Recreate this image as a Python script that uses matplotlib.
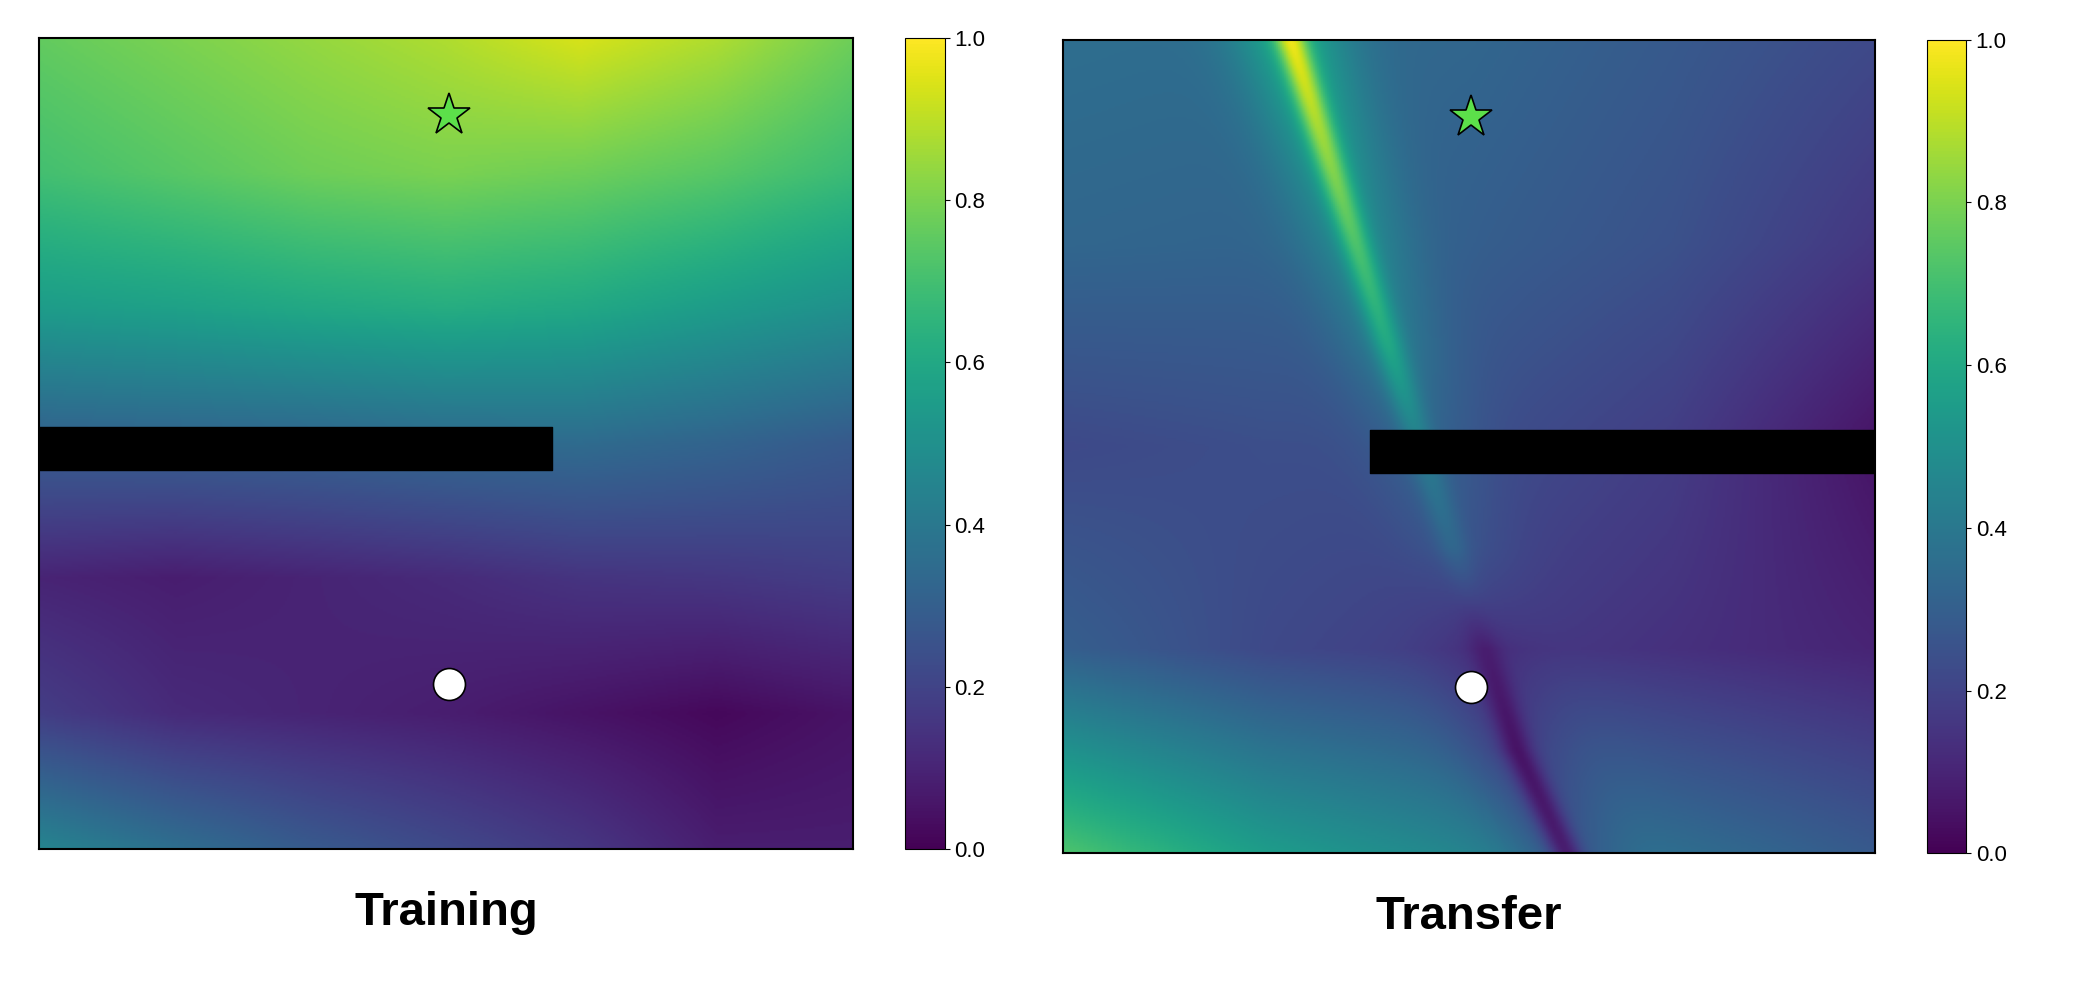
import numpy as np
import matplotlib.pyplot as plt
plt.rcParams['font.family'] = ['Liberation Sans', 'DejaVu Sans']

# Training field: coarse grid (rows top->bottom, cols left->right)
train_grid = [
    [0.76, 0.80, 0.84, 0.88, 0.94, 0.88, 0.78],
    [0.70, 0.74, 0.78, 0.80, 0.78, 0.74, 0.68],
    [0.55, 0.57, 0.60, 0.62, 0.60, 0.55, 0.50],
    [0.30, 0.31, 0.32, 0.34, 0.35, 0.32, 0.28],
    [0.10, 0.08, 0.10, 0.12, 0.15, 0.16, 0.18],
    [0.18, 0.12, 0.10, 0.08, 0.05, 0.02, 0.05],
    [0.45, 0.36, 0.28, 0.22, 0.16, 0.08, 0.08],
]
# Transfer background grid
transfer_bg = [
    [0.36, 0.35, 0.33, 0.28, 0.22],
    [0.33, 0.32, 0.30, 0.25, 0.16],
    [0.22, 0.24, 0.24, 0.18, 0.05],
    [0.30, 0.22, 0.18, 0.14, 0.10],
    [0.72, 0.55, 0.45, 0.36, 0.28],
]
# Transfer ridge: rows top->bottom (y), x position, peak value
ridge_y = [1.0, 0.875, 0.75, 0.625, 0.5, 0.375, 0.25, 0.125, 0.0]
ridge_x = [0.28, 0.32, 0.36, 0.40, 0.44, 0.48, 0.52, 0.56, 0.62]
ridge_v = [0.98, 0.85, 0.72, 0.60, 0.42, 0.33, 0.08, 0.05, 0.08]

def upsample(grid, n=300):
    g = np.array(grid, float)
    r, c = g.shape
    yi = np.linspace(0, r - 1, n); xi = np.linspace(0, c - 1, n)
    tmp = np.array([np.interp(xi, np.arange(c), row) for row in g])
    out = np.array([np.interp(yi, np.arange(r), tmp[:, j]) for j in range(n)]).T
    return out

n = 400
T = upsample(train_grid, n)
B = upsample(transfer_bg, n)
ys = np.linspace(1, 0, n); xs = np.linspace(0, 1, n)
rx = np.interp(ys, ridge_y[::-1], ridge_x[::-1])
rv = np.interp(ys, ridge_y[::-1], ridge_v[::-1])
X = xs[None, :]
d = np.abs(X - rx[:, None])
w = 0.6 * np.exp(-(d / 0.02) ** 2) + 0.4 * np.exp(-(d / 0.07) ** 2)
R = B * (1 - w) + rv[:, None] * w

fig = plt.figure(figsize=(20.76, 9.9), dpi=100)
axes = [fig.add_axes([0.019, 0.142, 0.392, 0.82]), fig.add_axes([0.512, 0.138, 0.391, 0.822])]
caxes = [fig.add_axes([0.436, 0.142, 0.019, 0.82]), fig.add_axes([0.928, 0.138, 0.019, 0.822])]
fields = [T, R]
titles = ["Training", "Transfer"]
bars = [(0.0, 0.63), (0.378, 1.0)]
for ax, cax, F, t, (b0, b1) in zip(axes, caxes, fields, titles, bars):
    im = ax.imshow(F, extent=[0, 1, 0, 1], origin='upper', cmap='viridis', vmin=0, vmax=1, aspect='auto')
    ax.fill_between([b0, b1], 0.467, 0.52, color='black', zorder=3)
    ax.plot(0.503, 0.905, marker='*', ms=32, color='#5ce04a', mec='black', mew=1.2, zorder=4)
    ax.plot(0.503, 0.204, marker='o', ms=23, color='white', mec='black', mew=1.2, zorder=4)
    ax.set_xlim(0, 1); ax.set_ylim(0, 1)
    ax.set_xticks([]); ax.set_yticks([])
    for s in ax.spines.values(): s.set_linewidth(1.5)
    ax.set_xlabel(t, fontsize=34, fontweight='bold', labelpad=30)
    cb = fig.colorbar(im, cax=cax)
    cb.set_ticks([0, 0.2, 0.4, 0.6, 0.8, 1.0])
    cb.ax.tick_params(labelsize=16)
fig.savefig('out.png', dpi=100)
